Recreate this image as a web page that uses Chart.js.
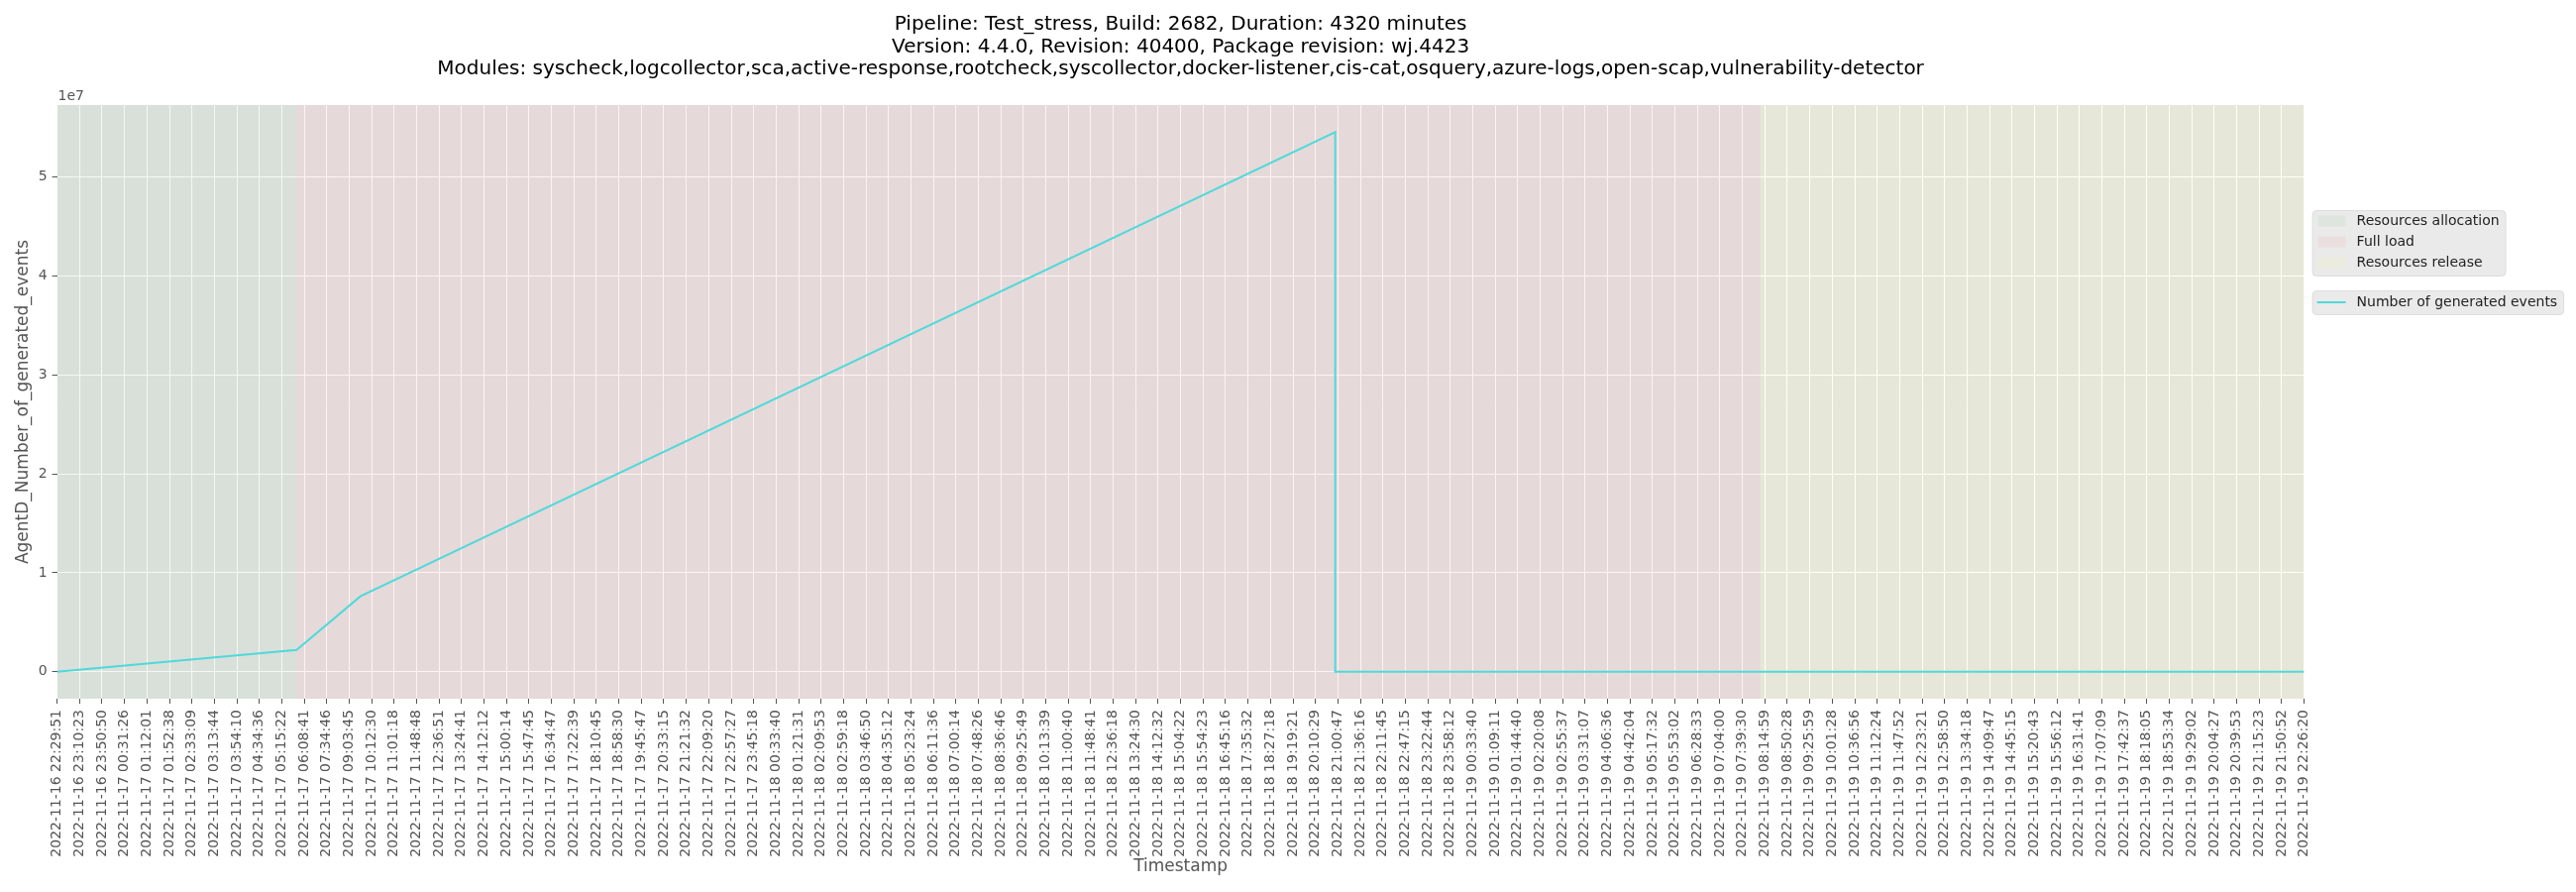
<!DOCTYPE html>
<html>
<head>
<meta charset="utf-8">
<title>Test_stress - AgentD generated events</title>
<script src="https://cdn.jsdelivr.net/npm/chart.js@4.4.0/dist/chart.umd.min.js"></script>
<style>
  body { margin: 0; background: #ffffff; }
  #wrap { width: 2600px; height: 900px; }
</style>
</head>
<body>
<div id="wrap"><canvas id="myChart" width="2600" height="900"></canvas></div>
<script>
// Chart data ============================================================

var titleLines = [
  'Pipeline: Test_stress, Build: 2682, Duration: 4320 minutes',
  'Version: 4.4.0, Revision: 40400, Package revision: wj.4423',
  'Modules: syscheck,logcollector,sca,active-response,rootcheck,syscollector,docker-listener,cis-cat,osquery,azure-logs,open-scap,vulnerability-detector'
];

// x tick labels, one per tick position (0..100)
var tickLabels = [
  '2022-11-16 22:29:51', '2022-11-16 23:10:23', '2022-11-16 23:50:50', '2022-11-17 00:31:26',
  '2022-11-17 01:12:01', '2022-11-17 01:52:38', '2022-11-17 02:33:09', '2022-11-17 03:13:44',
  '2022-11-17 03:54:10', '2022-11-17 04:34:36', '2022-11-17 05:15:22', '2022-11-17 06:08:41',
  '2022-11-17 07:34:46', '2022-11-17 09:03:45', '2022-11-17 10:12:30', '2022-11-17 11:01:18',
  '2022-11-17 11:48:48', '2022-11-17 12:36:51', '2022-11-17 13:24:41', '2022-11-17 14:12:12',
  '2022-11-17 15:00:14', '2022-11-17 15:47:45', '2022-11-17 16:34:47', '2022-11-17 17:22:39',
  '2022-11-17 18:10:45', '2022-11-17 18:58:30', '2022-11-17 19:45:47', '2022-11-17 20:33:15',
  '2022-11-17 21:21:32', '2022-11-17 22:09:20', '2022-11-17 22:57:27', '2022-11-17 23:45:18',
  '2022-11-18 00:33:40', '2022-11-18 01:21:31', '2022-11-18 02:09:53', '2022-11-18 02:59:18',
  '2022-11-18 03:46:50', '2022-11-18 04:35:12', '2022-11-18 05:23:24', '2022-11-18 06:11:36',
  '2022-11-18 07:00:14', '2022-11-18 07:48:26', '2022-11-18 08:36:46', '2022-11-18 09:25:49',
  '2022-11-18 10:13:39', '2022-11-18 11:00:40', '2022-11-18 11:48:41', '2022-11-18 12:36:18',
  '2022-11-18 13:24:30', '2022-11-18 14:12:32', '2022-11-18 15:04:22', '2022-11-18 15:54:23',
  '2022-11-18 16:45:16', '2022-11-18 17:35:32', '2022-11-18 18:27:18', '2022-11-18 19:19:21',
  '2022-11-18 20:10:29', '2022-11-18 21:00:47', '2022-11-18 21:36:16', '2022-11-18 22:11:45',
  '2022-11-18 22:47:15', '2022-11-18 23:22:44', '2022-11-18 23:58:12', '2022-11-19 00:33:40',
  '2022-11-19 01:09:11', '2022-11-19 01:44:40', '2022-11-19 02:20:08', '2022-11-19 02:55:37',
  '2022-11-19 03:31:07', '2022-11-19 04:06:36', '2022-11-19 04:42:04', '2022-11-19 05:17:32',
  '2022-11-19 05:53:02', '2022-11-19 06:28:33', '2022-11-19 07:04:00', '2022-11-19 07:39:30',
  '2022-11-19 08:14:59', '2022-11-19 08:50:28', '2022-11-19 09:25:59', '2022-11-19 10:01:28',
  '2022-11-19 10:36:56', '2022-11-19 11:12:24', '2022-11-19 11:47:52', '2022-11-19 12:23:21',
  '2022-11-19 12:58:50', '2022-11-19 13:34:18', '2022-11-19 14:09:47', '2022-11-19 14:45:15',
  '2022-11-19 15:20:43', '2022-11-19 15:56:12', '2022-11-19 16:31:41', '2022-11-19 17:07:09',
  '2022-11-19 17:42:37', '2022-11-19 18:18:05', '2022-11-19 18:53:34', '2022-11-19 19:29:02',
  '2022-11-19 20:04:27', '2022-11-19 20:39:53', '2022-11-19 21:15:23', '2022-11-19 21:50:52',
  '2022-11-19 22:26:20'
];

// series: x in tick positions, y in number of events
var eventsX = [0, 10.66, 13.5, 56.88, 56.88, 100];
var eventsY = [0, 2200000, 7620000, 54560000, 0, 0];

// test phases (x in tick positions)
var phaseNames = ['Resources allocation', 'Full load', 'Resources release'];
var phaseStart = [0, 10.66, 75.79];
var phaseEnd = [10.66, 75.79, 100];

var yTicks = [0, 10000000, 20000000, 30000000, 40000000, 50000000];
var yMin = -2728000;
var yMax = 57288000;

// Styles ================================================================

var fontFamily = '"DejaVu Sans", "Liberation Sans", sans-serif';
var phaseColors = ['rgba(0,128,0,0.05)', 'rgba(255,0,0,0.05)', 'rgba(255,255,0,0.05)'];
var lineColor = '#4fd9da';
var plotBg = '#e5e5e5';
var tickColor = '#555555';

// Plugin drawing background, phases, title, offset text and legends
var decorations = {
  id: 'decorations',
  beforeDraw: function(chart) {
    var ctx = chart.ctx;
    var a = chart.chartArea;
    ctx.save();
    ctx.fillStyle = '#ffffff';
    ctx.fillRect(0, 0, chart.width, chart.height);
    ctx.fillStyle = plotBg;
    ctx.fillRect(a.left, a.top, a.right - a.left, a.bottom - a.top);
    ctx.restore();
  },
  beforeDatasetsDraw: function(chart) {
    var ctx = chart.ctx;
    var a = chart.chartArea;
    var xs = chart.scales.x;
    ctx.save();
    for (var i = 0; i < phaseNames.length; i++) {
      var x0 = xs.getPixelForValue(phaseStart[i]);
      var x1 = xs.getPixelForValue(phaseEnd[i]);
      ctx.fillStyle = phaseColors[i];
      ctx.fillRect(x0, a.top, x1 - x0, a.bottom - a.top);
    }
    ctx.restore();
  },
  afterDraw: function(chart) {
    var ctx = chart.ctx;
    var a = chart.chartArea;
    ctx.save();

    // title, centered over the plot
    ctx.fillStyle = '#000000';
    ctx.font = '20px ' + fontFamily;
    ctx.textAlign = 'center';
    ctx.textBaseline = 'alphabetic';
    var cx = (a.left + a.right) / 2;
    for (var i = 0; i < titleLines.length; i++) {
      ctx.fillText(titleLines[i], cx, 30 + i * 22.7);
    }

    // offset text of the y axis
    ctx.fillStyle = tickColor;
    ctx.font = '14px ' + fontFamily;
    ctx.textAlign = 'left';
    ctx.fillText('1e7', a.left + 1, a.top - 5);

    // legends
    ctx.font = '14px ' + fontFamily;
    ctx.textBaseline = 'middle';
    var bx = a.right + 8;
    var textX = bx + 45;
    var w = 0;
    for (var j = 0; j < phaseNames.length; j++) {
      w = Math.max(w, ctx.measureText(phaseNames[j]).width);
    }
    drawBox(ctx, bx, 212, textX + w + 6 - bx, 66);
    for (var k = 0; k < phaseNames.length; k++) {
      var ry = 223 + k * 21;
      ctx.fillStyle = phaseColors[k];
      ctx.fillRect(bx + 6, ry - 5.5, 28, 11);
      ctx.fillStyle = '#222222';
      ctx.fillText(phaseNames[k], textX, ry);
    }
    var label = 'Number of generated events';
    drawBox(ctx, bx, 293, textX + ctx.measureText(label).width + 6 - bx, 24);
    ctx.strokeStyle = lineColor;
    ctx.lineWidth = 2;
    ctx.beginPath();
    ctx.moveTo(bx + 5, 305);
    ctx.lineTo(bx + 34, 305);
    ctx.stroke();
    ctx.fillStyle = '#222222';
    ctx.fillText(label, textX, 305);

    ctx.restore();
  }
};

function drawBox(ctx, x, y, w, h) {
  ctx.beginPath();
  ctx.roundRect(x + 0.5, y + 0.5, w, h, 4);
  ctx.fillStyle = 'rgba(229,229,229,0.8)';
  ctx.fill();
  ctx.strokeStyle = 'rgba(215,215,215,0.8)';
  ctx.lineWidth = 1;
  ctx.stroke();
}

// Build chart ============================================================

var points = [];
for (var i = 0; i < eventsX.length; i++) {
  points.push({ x: eventsX[i], y: eventsY[i] });
}

var canvas = document.getElementById('myChart');
var ctx = canvas.getContext('2d');

var myChart = new Chart(ctx, {
  type: 'line',
  data: {
    datasets: [{
      label: 'Number of generated events',
      data: points,
      borderColor: lineColor,
      borderWidth: 2,
      pointRadius: 0,
      tension: 0,
      fill: false
    }]
  },
  options: {
    responsive: false,
    devicePixelRatio: 1,
    animation: false,
    layout: { padding: { left: 0, right: 274.4, top: 106, bottom: 0 } },
    plugins: {
      legend: { display: false },
      title: { display: false },
      tooltip: { enabled: false }
    },
    scales: {
      x: {
        type: 'linear',
        min: 0,
        max: tickLabels.length - 1,
        border: { display: false },
        grid: { color: '#ffffff', lineWidth: 1, tickColor: tickColor, tickLength: 5 },
        afterBuildTicks: function(scale) {
          scale.ticks = tickLabels.map(function(t, i) { return { value: i }; });
        },
        afterFit: function(scale) { scale.height = 195; },
        ticks: {
          autoSkip: false,
          minRotation: 90,
          maxRotation: 90,
          padding: 6,
          color: tickColor,
          font: { family: fontFamily, size: 14 },
          callback: function(v) { return tickLabels[v]; }
        },
        title: {
          display: true,
          text: 'Timestamp',
          color: tickColor,
          font: { family: fontFamily, size: 17 },
          padding: { top: 4, bottom: 15 }
        }
      },
      y: {
        type: 'linear',
        min: yMin,
        max: yMax,
        border: { display: false },
        grid: { color: '#ffffff', lineWidth: 1, tickColor: tickColor, tickLength: 5 },
        afterBuildTicks: function(scale) {
          scale.ticks = yTicks.map(function(v) { return { value: v }; });
        },
        afterFit: function(scale) { scale.width = 57.6; },
        ticks: {
          padding: 5,
          color: tickColor,
          font: { family: fontFamily, size: 14 },
          callback: function(v) { return String(v / 10000000); }
        },
        title: {
          display: true,
          text: 'AgentD_Number_of_generated_events',
          color: tickColor,
          font: { family: fontFamily, size: 17 },
          padding: { top: 13, bottom: 0 }
        }
      }
    }
  },
  plugins: [decorations]
});
</script>
</body>
</html>
